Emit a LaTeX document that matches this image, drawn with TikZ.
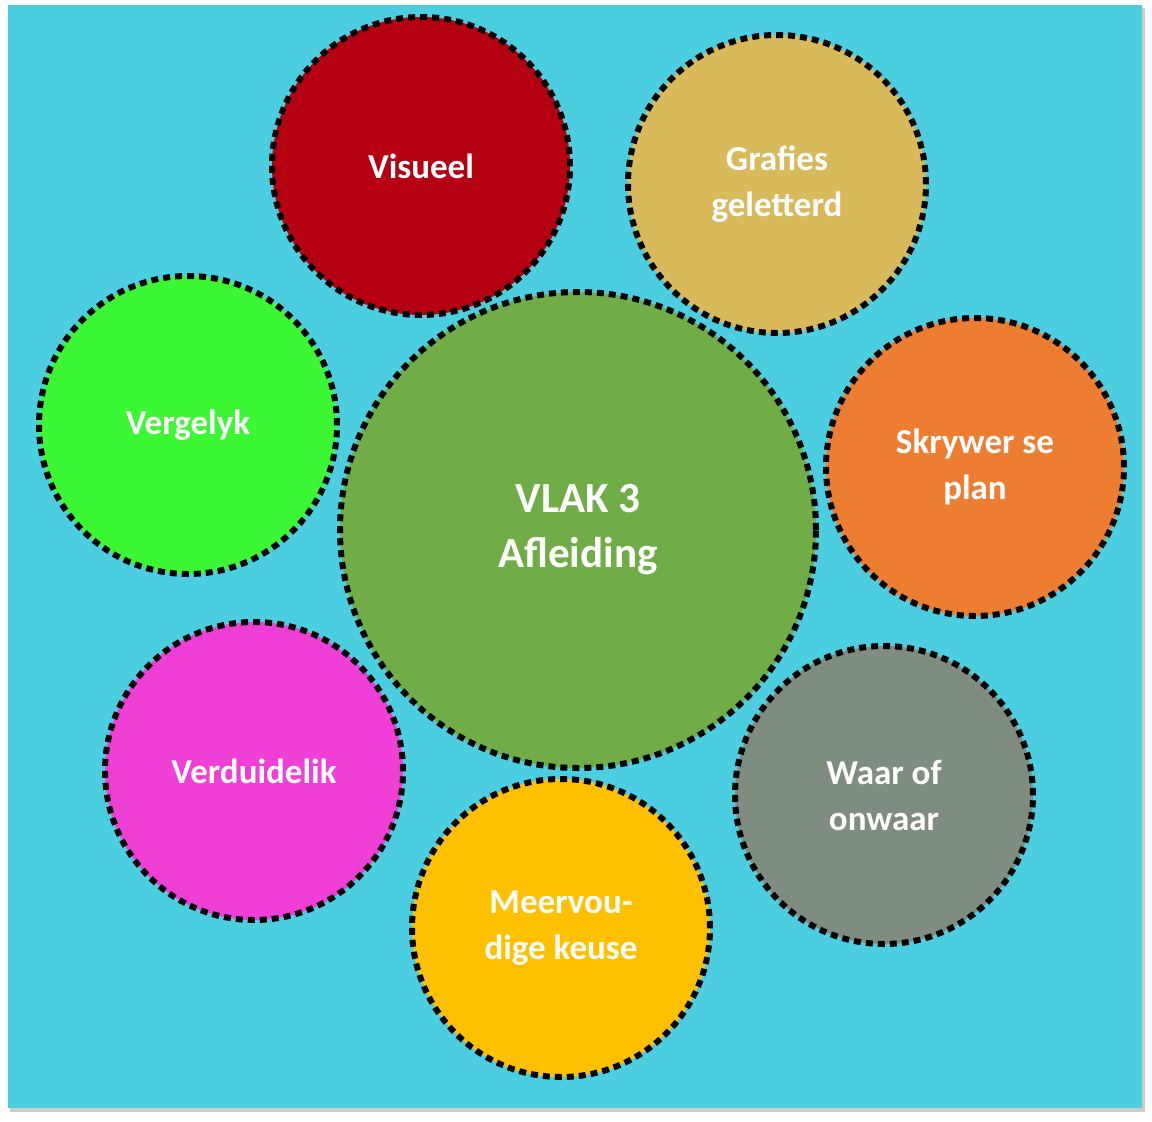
\documentclass[tikz,border=0pt]{standalone}
\usepackage{fontspec}
\setmainfont{Carlito}
\begin{document}
\begin{tikzpicture}[x=1pt,y=-1pt,
  bub/.style={circle,draw=black,line width=6pt,dash pattern=on 7pt off 5pt,minimum size=#1,inner sep=0pt,
    text=white,font=\bfseries\fontsize{35}{46}\selectfont,align=center}]
\useasboundingbox (0,0) rectangle (1152,1122);
\fill[white] (0,0) rectangle (1152,1122);
\fill[gray!40] (10,8) rectangle (1145,1112);
\fill[fill={rgb,255:red,75;green,207;blue,224}] (8,5) rectangle (1142,1108);
\node[bub=298pt,fill={rgb,255:red,181;green,0;blue,18}] (vis) at (421,166) {Visueel};
\node[bub=298pt,fill={rgb,255:red,216;green,186;blue,90}] (gra) at (777,184) {Grafies\\geletterd};
\node[bub=298pt,fill={rgb,255:red,60;green,247;blue,52}] (ver) at (188,425) {Vergelyk};
\node[bub=298pt,fill={rgb,255:red,237;green,125;blue,49}] (sky) at (975,467) {Skrywer se\\plan};
\node[bub=298pt,fill={rgb,255:red,239;green,63;blue,214}] (vdu) at (254,771) {Verduidelik};
\node[bub=298pt,fill={rgb,255:red,127;green,140;blue,128}] (waa) at (884,795) {Waar of\\onwaar};
\node[bub=298pt,fill={rgb,255:red,255;green,192;blue,0}] (mee) at (561,928) {Meervou-\\dige keuse};
\node[bub=476pt,fill={rgb,255:red,112;green,173;blue,71},font=\bfseries\fontsize{43}{55}\selectfont] (cen) at (578,530) {VLAK 3\\Afleiding};
\end{tikzpicture}
\end{document}
